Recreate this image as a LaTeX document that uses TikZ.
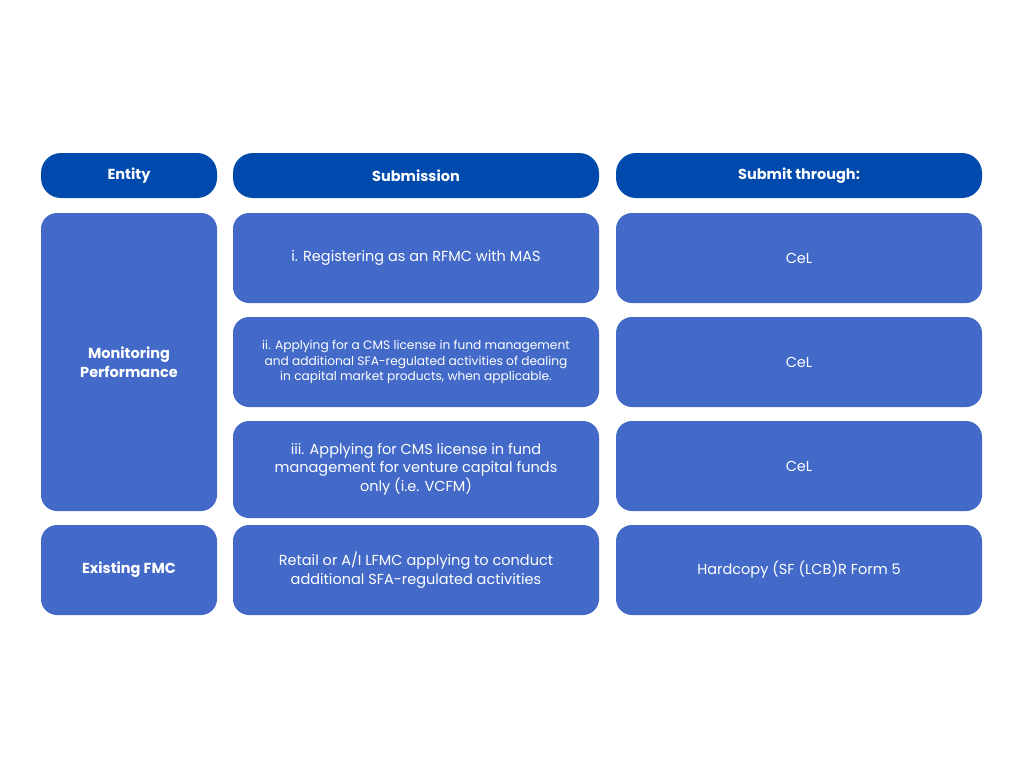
\documentclass[tikz,border=0pt]{standalone}
\usepackage{fontspec}
\setmainfont{Poppins}
\begin{document}
\begin{tikzpicture}[x=1pt,y=-1pt,
 hdr/.style={fill=hdrc,rounded corners=20pt},
 cell/.style={fill=cellc,rounded corners=16pt},
 bt/.style={text=white,align=center,font=\fontsize{14.5}{18.5}\selectfont\bfseries},
 nt/.style={text=white,align=center,font=\fontsize{14.5}{18.5}\selectfont},
 st/.style={text=white,align=center,font=\fontsize{12.2}{15.5}\selectfont}]
\definecolor{hdrc}{HTML}{0049AD}
\definecolor{cellc}{HTML}{436AC8}
\useasboundingbox (0,0) rectangle (1024,768);
\fill[hdr] (41,153) rectangle (217,198); \node[bt] (h1) at (129,176) {Entity};
\fill[hdr] (233,153) rectangle (599,198); \node[bt] (h2) at (416,176) {Submission};
\fill[hdr] (616,153) rectangle (982,198); \node[bt] (h3) at (799,176) {Submit through:};
\fill[cell] (41,213) rectangle (217,511); \node[bt] (e1) at (129,362) {Monitoring\\Performance};
\fill[cell] (41,525) rectangle (217,615); \node[bt] (e2) at (129,570) {Existing FMC};
\fill[cell] (233,213) rectangle (599,303); \node[nt] (s1) at (416,258) {i. Registering as an RFMC with MAS};
\fill[cell] (233,317) rectangle (599,407); \node[st] (s2) at (416,362) {ii. Applying for a CMS license in fund management\\and additional SFA-regulated activities of dealing\\in capital market products, when applicable.};
\fill[cell] (233,421) rectangle (599,518); \node[nt] (s3) at (416,469) {iii. Applying for CMS license in fund\\management for venture capital funds\\only (i.e. VCFM)};
\fill[cell] (233,525) rectangle (599,615); \node[nt] (s4) at (416,570) {Retail or A/I LFMC applying to conduct\\additional SFA-regulated activities};
\fill[cell] (616,213) rectangle (982,303); \node[nt] (c1) at (799,258) {CeL};
\fill[cell] (616,317) rectangle (982,407); \node[nt] (c2) at (799,362) {CeL};
\fill[cell] (616,421) rectangle (982,511); \node[nt] (c3) at (799,466) {CeL};
\fill[cell] (616,525) rectangle (982,615); \node[nt] (c4) at (799,570) {Hardcopy (SF (LCB)R Form 5};
\end{tikzpicture}
\end{document}
